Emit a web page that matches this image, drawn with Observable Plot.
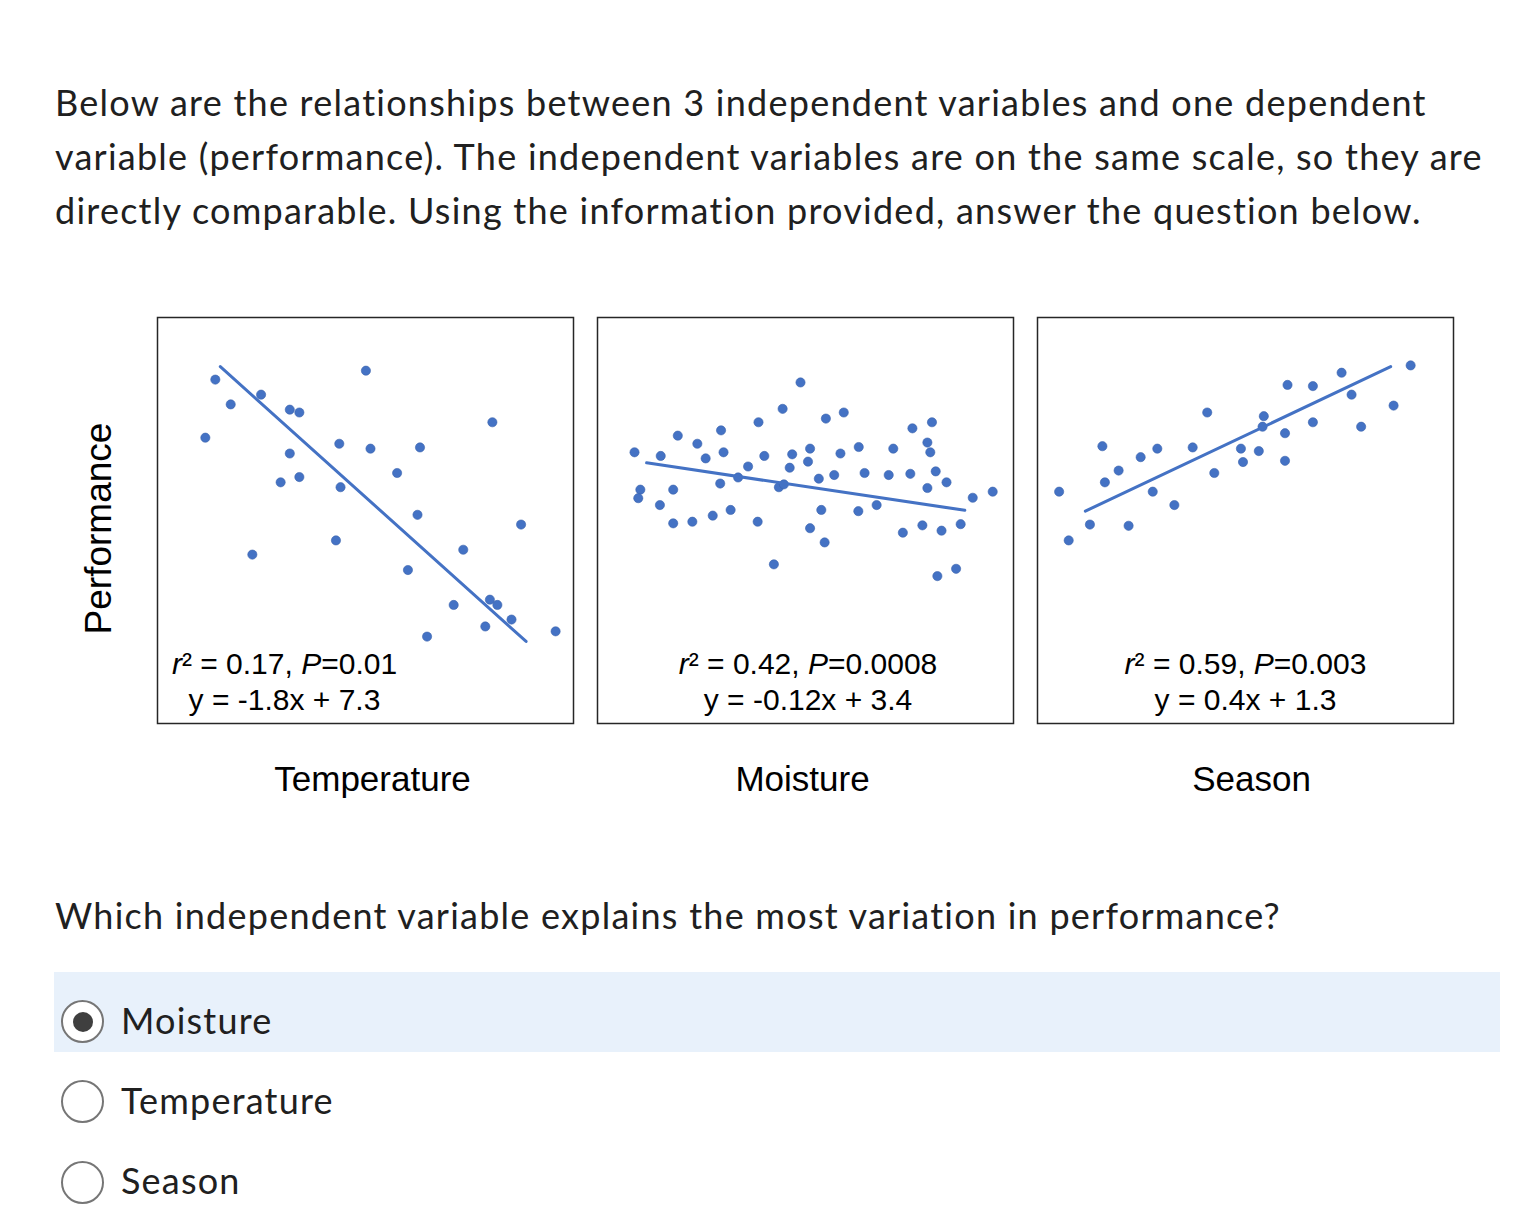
<!DOCTYPE html>
<html>
<head>
<meta charset="utf-8">
<script src="https://cdn.jsdelivr.net/npm/d3@7"></script>
<script src="https://cdn.jsdelivr.net/npm/@observablehq/plot@0.6"></script>
<style>
  body { margin: 0; background: #fff; }
  #page { position: relative; width: 1538px; height: 1232px; overflow: hidden; font-family: Lato, "Open Sans", sans-serif; color: #202020; }
  .txt { position: absolute; left: 55px; font-size: 36px; letter-spacing: 1.25px; line-height: 54px; white-space: nowrap; }
  .hl { position: absolute; left: 54px; top: 972px; width: 1446px; height: 80px; background: #e8f1fb; }
  .radio { position: absolute; left: 61px; width: 39px; height: 39px; border: 2px solid #767676; border-radius: 50%; background: #fff; }
  .radio.on::after { content: ""; position: absolute; left: 9.5px; top: 9.5px; width: 20px; height: 20px; border-radius: 50%; background: #3f3f3f; }
  .opt { position: absolute; left: 121px; font-size: 36px; letter-spacing: 1.2px; line-height: 54px; white-space: nowrap; }
</style>
</head>
<body>
<div id="page">
  <div class="txt" style="top:75px">Below are the relationships between 3 independent variables and one dependent<br>variable (performance). The independent variables are on the same scale, so they are<br>directly comparable. Using the information provided, answer the question below.</div>
  <div class="txt" style="top:888px">Which independent variable explains the most variation in performance?</div>
  <div class="hl"></div>
  <div class="radio on" style="top:1000px"></div>
  <div class="radio" style="top:1080px"></div>
  <div class="radio" style="top:1161px"></div>
  <div class="opt" style="top:993px">Moisture</div>
  <div class="opt" style="top:1073px">Temperature</div>
  <div class="opt" style="top:1153px">Season</div>
</div>
<script>
// ---- Data (panel coordinates 0–10) ----
const yLabel = "Performance";
const panelLabels = ["Temperature", "Moisture", "Season"];
const notes = [
  "r² = 0.17, P=0.01\ny = -1.8x + 7.3",
  "r² = 0.42, P=0.0008\ny = -0.12x + 3.4",
  "r² = 0.59, P=0.003\ny = 0.4x + 1.3"
];

const tempX = [1.39,1.76,1.15,2.49,3.18,3.41,3.18,3.41,2.96,2.28,5.01,4.37,5.12,4.40,4.29,6.31,5.76,6.25,8.05,8.74,7.35,6.02,7.12,7.99,8.17,8.51,7.88,6.48,9.57];
const tempY = [8.47,7.86,7.04,8.10,7.73,7.66,6.65,6.07,5.94,4.16,8.69,6.89,6.77,5.82,4.51,6.80,6.17,5.14,7.42,4.90,4.28,3.78,2.92,3.05,2.92,2.56,2.39,2.14,2.27];
const tempFitX = [1.51, 8.86];
const tempFitY = [8.79, 2.02];

const moistX = [0.89,1.52,1.93,2.40,2.60,2.97,3.03,1.03,0.98,1.82,1.50,1.82,2.28,2.77,3.20,2.95,3.38,3.62,3.87,4.01,3.85,4.45,4.88,4.68,4.62,4.36,4.48,4.24,5.11,5.06,5.32,5.38,5.11,5.46,5.49,5.92,5.84,5.69,6.28,6.42,6.27,6.71,7.00,7.11,7.57,8.04,7.93,8.00,7.52,8.13,7.93,8.39,7.34,7.81,8.27,8.73,9.02,9.50,8.17,8.62];
const moistY = [6.68,6.59,7.09,6.89,6.53,7.22,6.68,5.76,5.55,5.76,5.38,4.93,4.97,5.12,5.26,5.91,6.06,6.33,7.42,6.59,4.97,7.75,8.40,6.63,6.30,5.82,5.89,3.92,6.77,6.45,6.03,5.26,4.81,4.46,7.51,7.66,6.65,6.12,6.81,6.17,5.23,5.38,6.12,6.77,7.27,7.42,6.92,6.68,6.15,6.21,5.80,5.94,4.70,4.88,4.75,4.91,5.56,5.71,3.63,3.81];
const moistFitX = [1.18, 8.83];
const moistFitY = [6.42, 5.25];

const seasonX = [0.52,0.75,1.26,1.56,1.62,1.95,2.19,2.48,2.88,2.77,3.29,3.73,4.08,4.25,4.89,4.94,5.32,5.44,5.41,5.95,5.95,6.01,6.62,6.62,7.31,7.55,7.78,8.56,8.97];
const seasonY = [5.71,4.51,4.90,6.83,5.94,6.23,4.87,6.56,6.77,5.71,5.38,6.80,7.66,6.17,6.77,6.44,6.71,7.57,7.31,7.15,6.47,8.34,8.31,7.42,8.64,8.10,7.31,7.83,8.82];
const seasonFitX = [1.15, 8.49];
const seasonFitY = [5.23, 8.79];

// ---- Drawing ----
const BLUE = "#4472C4";
const page = document.getElementById("page");

function italicize(svg) {
  svg.querySelectorAll("text, tspan").forEach(el => {
    if (el.children.length) return;
    const t = el.textContent;
    if (!t.startsWith("r²")) return;
    el.textContent = "";
    const segs = [];
    let buf = "";
    for (let i = 0; i < t.length; i++) {
      const c = t[i];
      const it = (i === 0 && c === "r") || (c === "P" && t[i + 1] === "=");
      if (it) {
        if (buf) segs.push([buf, false]);
        segs.push([c, true]);
        buf = "";
      } else buf += c;
    }
    if (buf) segs.push([buf, false]);
    for (const [s, it] of segs) {
      const ts = document.createElementNS("http://www.w3.org/2000/svg", "tspan");
      if (it) ts.setAttribute("font-style", "italic");
      ts.textContent = s;
      el.appendChild(ts);
    }
  });
}

function panel({xs, ys, fx, fy, label, note, noteDx, labelDx, left, showY}) {
  const ML = showY ? 80 : 4, MR = 4, MT = 4, MB = 90;
  const pts = xs.map((x, i) => ({x, y: ys[i]}));
  const fit = fx.map((x, i) => ({x, y: fy[i]}));
  const marks = [
    Plot.dot(pts, {x: "x", y: "y", r: 4.6, fill: BLUE, stroke: "#3b63ad", strokeWidth: 0.6}),
    Plot.line(fit, {x: "x", y: "y", stroke: BLUE, strokeWidth: 3}),
    Plot.frame({stroke: "#262626", strokeWidth: 1.5}),
    Plot.text([note], {text: d => d, frameAnchor: "bottom", lineAnchor: "bottom", dy: -13.3, dx: noteDx, fontSize: 30, lineHeight: 1.2, fill: "#000"}),
    Plot.text([label], {text: d => d, frameAnchor: "bottom", lineAnchor: "top", dy: 43, dx: labelDx, fontSize: 35, fill: "#000"})
  ];
  if (showY) marks.push(Plot.text([yLabel], {text: d => d, frameAnchor: "left", textAnchor: "middle", rotate: -90, dx: -58, dy: 8, fontSize: 37, fill: "#000"}));
  const svg = Plot.plot({
    width: ML + 416 + MR,
    height: MT + 406 + MB,
    marginLeft: ML, marginRight: MR, marginTop: MT, marginBottom: MB,
    x: {domain: [0, 10], axis: null},
    y: {domain: [0, 10], axis: null},
    style: {fontFamily: "'Liberation Sans', Arial, sans-serif", background: "transparent", overflow: "visible"},
    marks
  });
  italicize(svg);
  svg.style.position = "absolute";
  svg.style.left = (left - ML) + "px";
  svg.style.top = (317 - MT) + "px";
  page.appendChild(svg);
}

panel({xs: tempX, ys: tempY, fx: tempFitX, fy: tempFitY, label: panelLabels[0], note: notes[0], noteDx: -81, labelDx: 7, left: 157, showY: true});
panel({xs: moistX, ys: moistY, fx: moistFitX, fy: moistFitY, label: panelLabels[1], note: notes[1], noteDx: 2.5, labelDx: -3, left: 597, showY: false});
panel({xs: seasonX, ys: seasonY, fx: seasonFitX, fy: seasonFitY, label: panelLabels[2], note: notes[2], noteDx: 0, labelDx: 6, left: 1037, showY: false});
</script>
</body>
</html>
